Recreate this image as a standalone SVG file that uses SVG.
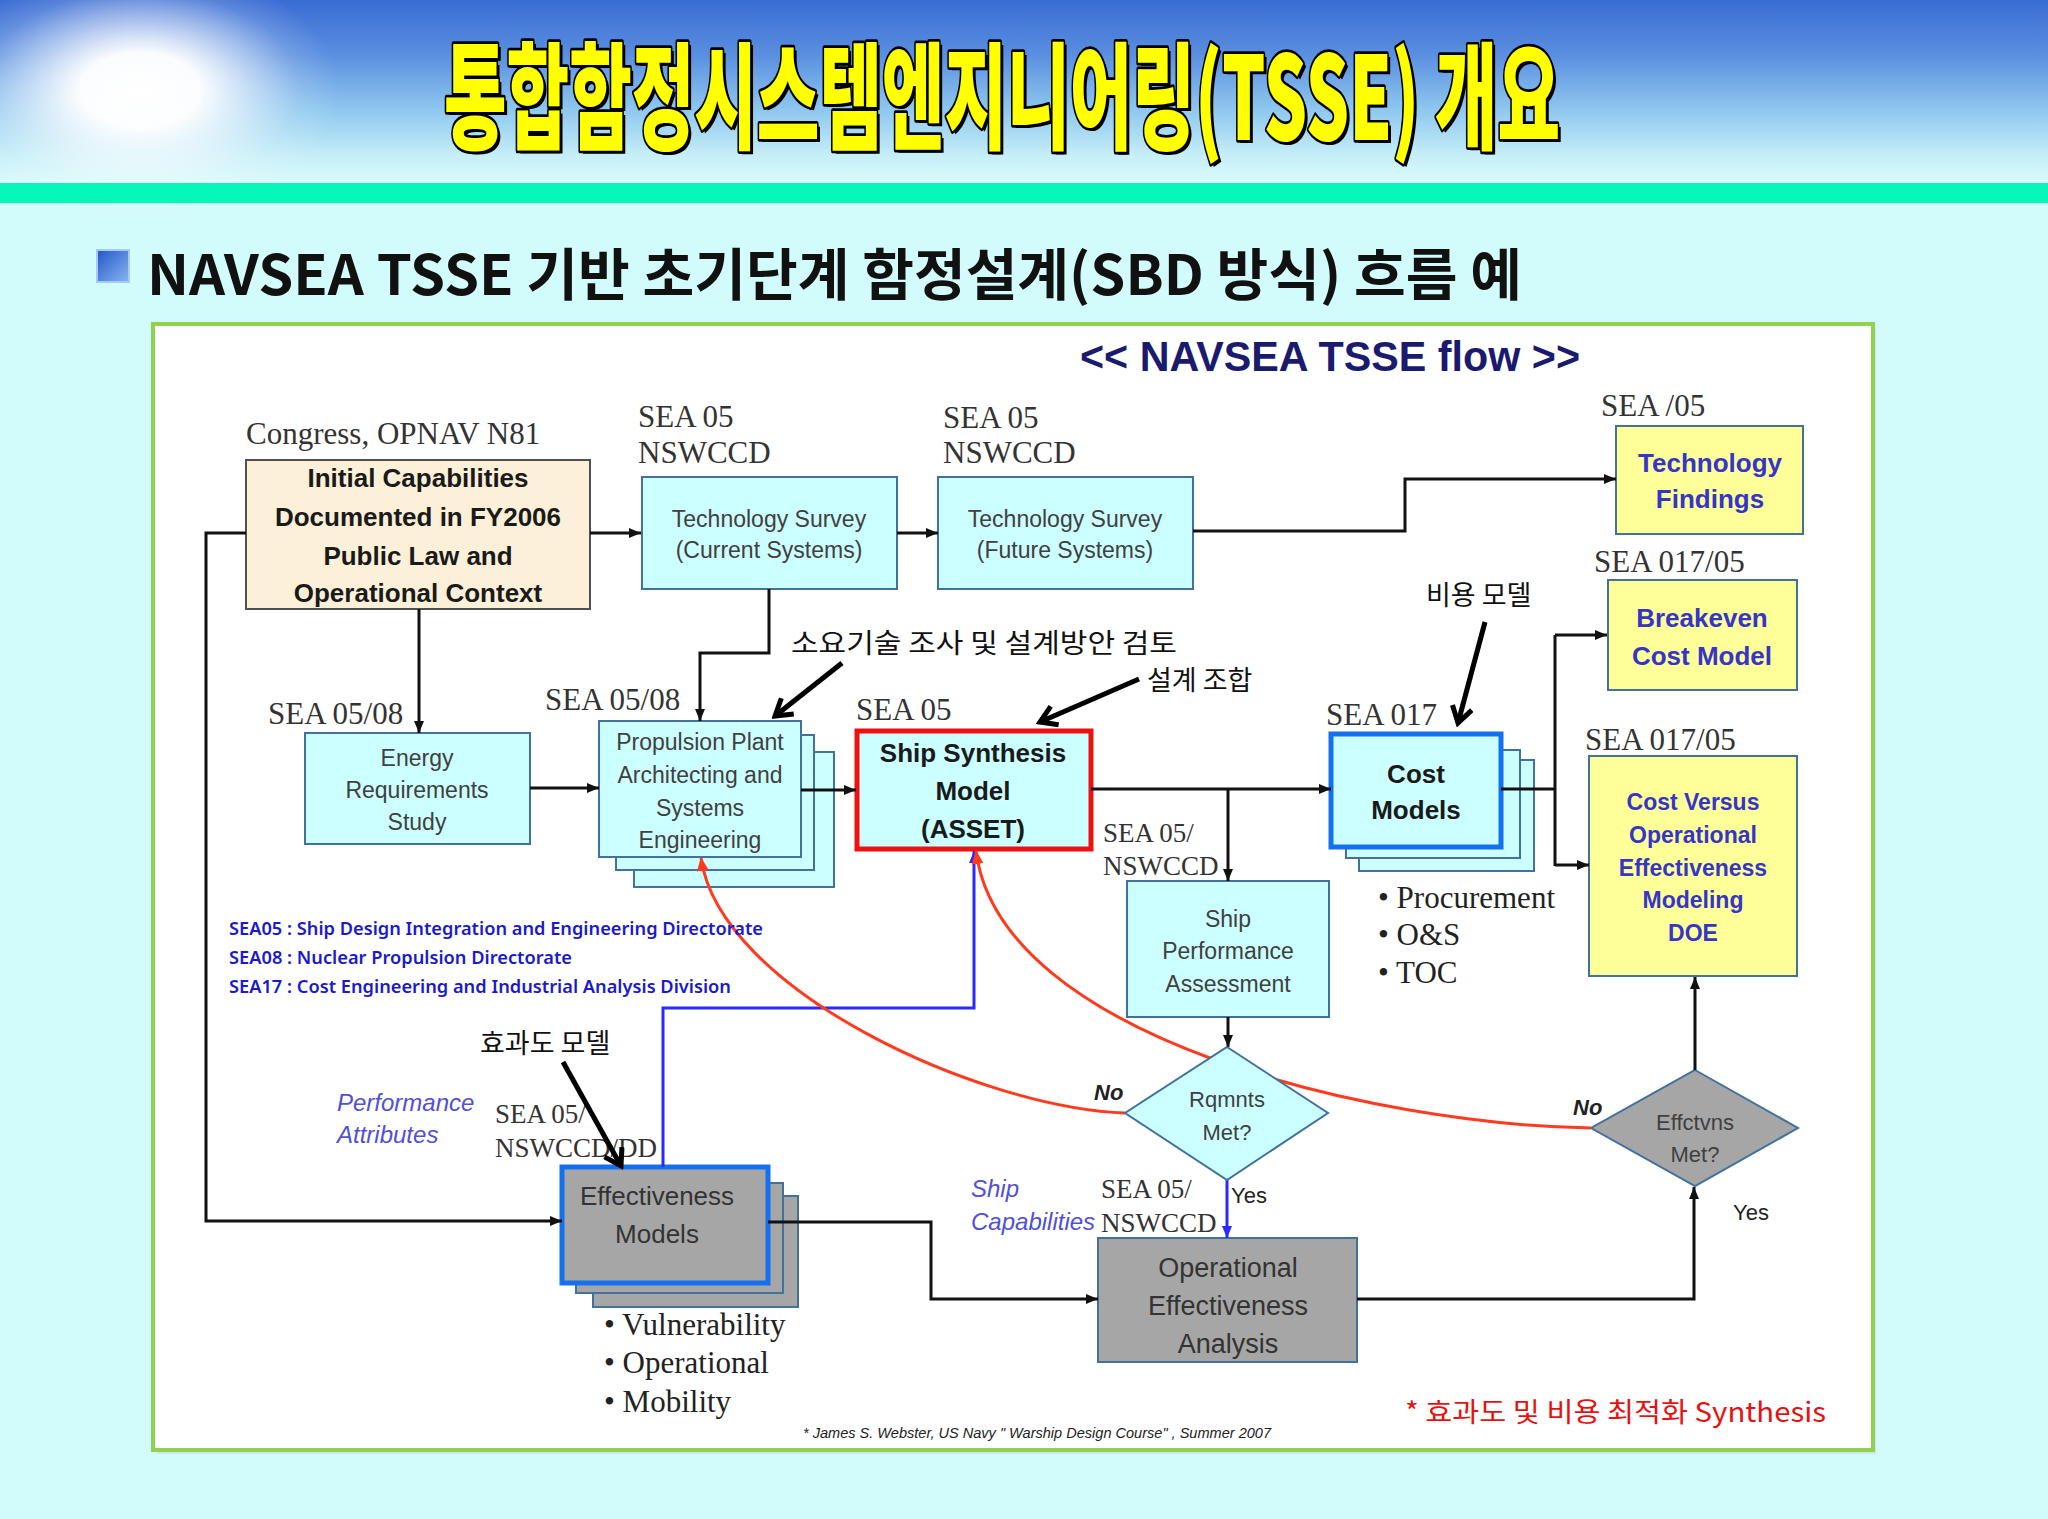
<svg xmlns="http://www.w3.org/2000/svg" width="2048" height="1519" viewBox="0 0 2048 1519">
<defs>
<linearGradient id="sky" x1="0" y1="0" x2="0" y2="1">
<stop offset="0" stop-color="#3a6cd3"/>
<stop offset="0.3" stop-color="#5a8fe0"/>
<stop offset="0.6" stop-color="#8fc8ef"/>
<stop offset="0.85" stop-color="#c6eff8"/>
<stop offset="1" stop-color="#dcfbfb"/>
</linearGradient>
<radialGradient id="sun" cx="0.5" cy="0.5" r="0.5">
<stop offset="0" stop-color="#ffffff" stop-opacity="1"/>
<stop offset="0.3" stop-color="#ffffff" stop-opacity="0.97"/>
<stop offset="0.55" stop-color="#ffffff" stop-opacity="0.55"/>
<stop offset="0.8" stop-color="#ffffff" stop-opacity="0.15"/>
<stop offset="1" stop-color="#ffffff" stop-opacity="0"/>
</radialGradient>
<linearGradient id="bullet" x1="0" y1="0" x2="1" y2="1">
<stop offset="0" stop-color="#2456c8"/>
<stop offset="1" stop-color="#86b6f2"/>
</linearGradient>
<marker id="ah" viewBox="0 0 12 10" refX="12" refY="5" markerWidth="12" markerHeight="10" markerUnits="userSpaceOnUse" orient="auto">
<path d="M0,0 L12,5 L0,10 z" fill="#111"/>
</marker>
<marker id="ahr" viewBox="0 0 14 12" refX="13" refY="6" markerWidth="14" markerHeight="12" markerUnits="userSpaceOnUse" orient="auto">
<path d="M0,0 L14,6 L0,12 z" fill="#ff3b1f"/>
</marker>
<marker id="ahb" viewBox="0 0 12 10" refX="12" refY="5" markerWidth="12" markerHeight="10" markerUnits="userSpaceOnUse" orient="auto">
<path d="M0,0 L12,5 L0,10 z" fill="#2a2aff"/>
</marker>
<marker id="chev" viewBox="0 0 24 24" refX="20" refY="12" markerWidth="24" markerHeight="24" markerUnits="userSpaceOnUse" orient="auto">
<path d="M4,2 L20,12 L4,22" fill="none" stroke="#000" stroke-width="5" stroke-linejoin="miter"/>
</marker>
<style>
.sea{font-family:"Liberation Serif","Times New Roman",serif;font-size:31px;fill:#333}
.sm{font-size:27px}
.bul{font-family:"Liberation Serif","Times New Roman",serif;font-size:31px;fill:#222}
.bc{fill:#ccffff;stroke:#41719c;stroke-width:2}
.by{fill:#ffff99;stroke:#41719c;stroke-width:2}
.bg{fill:#a6a6a6;stroke:#41719c;stroke-width:2}
.tr{font-family:"Liberation Sans",Arial,sans-serif;font-size:23px;fill:#404040;text-anchor:middle}
.tg{font-family:"Liberation Sans",Arial,sans-serif;font-size:26px;fill:#333;text-anchor:middle}
.tb{font-family:"Liberation Sans",Arial,sans-serif;font-size:26px;font-weight:bold;fill:#1a1a1a;text-anchor:middle}
.tbl{font-family:"Liberation Sans",Arial,sans-serif;font-size:26px;font-weight:bold;fill:#3535c8;text-anchor:middle}
.conn{fill:none;stroke:#111;stroke-width:3}
.kr{font-family:"Noto Sans CJK KR",sans-serif;font-size:27px;fill:#111}
.call{stroke:#000;stroke-width:5;fill:none}
.it{font-family:"Liberation Sans",Arial,sans-serif;font-size:24px;font-style:italic;fill:#5050d8}
.no{font-family:"Liberation Sans",Arial,sans-serif;font-size:22px;font-style:italic;font-weight:bold;fill:#222}
.yes{font-family:"Liberation Sans",Arial,sans-serif;font-size:22px;fill:#222}
.leg{font-family:"Noto Sans","Liberation Sans",sans-serif;font-size:17px;fill:#1a1acc;font-weight:600}
.ttl{font-family:"Noto Sans CJK KR",sans-serif;font-weight:900;font-size:64px}
</style>
</defs>

<!-- background -->
<rect x="0" y="0" width="2048" height="1519" fill="#d2fbfb"/>
<rect x="0" y="0" width="2048" height="184" fill="url(#sky)"/>
<ellipse cx="140" cy="90" rx="200" ry="125" fill="url(#sun)"/>
<rect x="0" y="183" width="2048" height="20" fill="#05f7b9"/>

<!-- title -->
<g id="title">
<text class="ttl" transform="translate(447,143) scale(1,1.8125)" x="0" y="0" textLength="1116" lengthAdjust="spacingAndGlyphs" fill="#000">통합함정시스템엔지니어링(TSSE) 개요</text>
<text class="ttl" transform="translate(444,140) scale(1,1.8125)" x="0" y="0" textLength="1116" lengthAdjust="spacingAndGlyphs" fill="#ffff00" stroke="#000" stroke-width="3" stroke-linejoin="round" paint-order="stroke">통합함정시스템엔지니어링(TSSE) 개요</text>
</g>

<g id="subtitle">
<rect x="97" y="250" width="32" height="32" fill="url(#bullet)" stroke="#a8cbf5" stroke-width="2"/>
<text x="147" y="295" font-family="Noto Sans CJK KR,sans-serif" font-weight="bold" font-size="56" textLength="1375" lengthAdjust="spacingAndGlyphs" fill="#111">NAVSEA TSSE 기반 초기단계 함정설계(SBD 방식) 흐름 예</text>
</g>

<!-- panel -->
<rect x="157" y="328" width="1719" height="1126" fill="#c8dede" opacity="0.6"/>
<rect x="153" y="324" width="1720" height="1126" fill="#ffffff" stroke="#92d050" stroke-width="4"/>

<text x="1080" y="371" font-family="Liberation Sans,Arial,sans-serif" font-weight="bold" font-size="42" textLength="500" lengthAdjust="spacingAndGlyphs" fill="#1a1a6e">&lt;&lt; NAVSEA TSSE flow &gt;&gt;</text>

<!-- nodes -->
<g id="n-initial">
<text class="sea" x="246" y="444">Congress, OPNAV N81</text>
<rect x="246" y="460" width="344" height="149" fill="#fdf0d8" stroke="#505050" stroke-width="2"/>
<text class="tb" x="418" y="487">Initial Capabilities</text>
<text class="tb" x="418" y="526">Documented in FY2006</text>
<text class="tb" x="418" y="565">Public Law and</text>
<text class="tb" x="418" y="602">Operational Context</text>
</g>

<g id="n-techcur">
<text class="sea" x="638" y="427">SEA 05</text>
<text class="sea" x="638" y="463">NSWCCD</text>
<rect class="bc" x="642" y="477" width="255" height="112"/>
<text class="tr" x="769" y="527">Technology Survey</text>
<text class="tr" x="769" y="558">(Current Systems)</text>
</g>

<g id="n-techfut">
<text class="sea" x="943" y="428">SEA 05</text>
<text class="sea" x="943" y="463">NSWCCD</text>
<rect class="bc" x="938" y="477" width="255" height="112"/>
<text class="tr" x="1065" y="527">Technology Survey</text>
<text class="tr" x="1065" y="558">(Future Systems)</text>
</g>

<g id="n-findings">
<text class="sea" x="1601" y="416">SEA /05</text>
<rect class="by" x="1616" y="426" width="187" height="108"/>
<text class="tbl" x="1710" y="472">Technology</text>
<text class="tbl" x="1710" y="508">Findings</text>
</g>

<g id="n-breakeven">
<text class="sea" x="1594" y="572">SEA 017/05</text>
<rect class="by" x="1608" y="580" width="189" height="110"/>
<text class="tbl" x="1702" y="627">Breakeven</text>
<text class="tbl" x="1702" y="665">Cost Model</text>
</g>

<g id="n-costversus">
<text class="sea" x="1585" y="750">SEA 017/05</text>
<rect class="by" x="1589" y="756" width="208" height="220"/>
<text class="tbl" x="1693" y="810" style="font-size:23px">Cost Versus</text>
<text class="tbl" x="1693" y="843" style="font-size:23px">Operational</text>
<text class="tbl" x="1693" y="876" style="font-size:23px">Effectiveness</text>
<text class="tbl" x="1693" y="908" style="font-size:23px">Modeling</text>
<text class="tbl" x="1693" y="941" style="font-size:23px">DOE</text>
</g>

<g id="n-energy">
<text class="sea" x="268" y="724">SEA 05/08</text>
<rect class="bc" x="305" y="733" width="225" height="111"/>
<text class="tr" x="417" y="766">Energy</text>
<text class="tr" x="417" y="798">Requirements</text>
<text class="tr" x="417" y="830">Study</text>
</g>

<g id="n-propulsion">
<text class="sea" x="545" y="710">SEA 05/08</text>
<rect class="bc" x="634" y="752" width="200" height="135"/>
<rect class="bc" x="616" y="735" width="198" height="135"/>
<rect class="bc" x="599" y="721" width="202" height="136"/>
<text class="tr" x="700" y="750">Propulsion Plant</text>
<text class="tr" x="700" y="783">Architecting and</text>
<text class="tr" x="700" y="816">Systems</text>
<text class="tr" x="700" y="848">Engineering</text>
</g>

<g id="n-synthesis">
<text class="sea" x="856" y="720">SEA 05</text>
<rect x="857" y="731" width="234" height="118" fill="#ccffff" stroke="#ee1111" stroke-width="5"/>
<text class="tb" x="973" y="762">Ship Synthesis</text>
<text class="tb" x="973" y="800">Model</text>
<text class="tb" x="973" y="838">(ASSET)</text>
</g>

<g id="n-costmodels">
<text class="sea" x="1326" y="725">SEA 017</text>
<rect class="bc" x="1359" y="760" width="175" height="111"/>
<rect class="bc" x="1346" y="750" width="174" height="108"/>
<rect x="1331" y="734" width="170" height="113" fill="#ccffff" stroke="#1570ef" stroke-width="5"/>
<text class="tb" x="1416" y="783">Cost</text>
<text class="tb" x="1416" y="819">Models</text>
<text class="bul" x="1378" y="908">• Procurement</text>
<text class="bul" x="1378" y="945">• O&amp;S</text>
<text class="bul" x="1378" y="983">• TOC</text>
</g>

<g id="n-shipperf">
<text class="sea sm" x="1103" y="842">SEA 05/</text>
<text class="sea sm" x="1103" y="875">NSWCCD</text>
<rect class="bc" x="1127" y="881" width="202" height="136"/>
<text class="tr" x="1228" y="927">Ship</text>
<text class="tr" x="1228" y="959">Performance</text>
<text class="tr" x="1228" y="992">Assessment</text>
</g>

<g id="n-effctvns">
<polygon class="bg" points="1695,1070 1798,1128 1695,1186 1591,1128"/>
<text class="tr" x="1695" y="1130" style="font-size:22px">Effctvns</text>
<text class="tr" x="1695" y="1162" style="font-size:22px">Met?</text>
<text class="no" x="1573" y="1115">No</text>
<text class="yes" x="1733" y="1220">Yes</text>
</g>

<g id="n-opeff">
<text class="it" x="971" y="1197">Ship</text>
<text class="it" x="971" y="1230">Capabilities</text>
<text class="sea sm" x="1101" y="1198">SEA 05/</text>
<text class="sea sm" x="1101" y="1232">NSWCCD</text>
<rect class="bg" x="1098" y="1238" width="259" height="124"/>
<text class="tg" x="1228" y="1277" style="font-size:27px">Operational</text>
<text class="tg" x="1228" y="1315" style="font-size:27px">Effectiveness</text>
<text class="tg" x="1228" y="1353" style="font-size:27px">Analysis</text>
</g>

<g id="n-effmodels">
<text class="it" x="337" y="1111">Performance</text>
<text class="it" x="337" y="1143">Attributes</text>
<text class="sea sm" x="495" y="1123">SEA 05/</text>
<text class="sea sm" x="495" y="1157">NSWCCD/DD</text>
<rect class="bg" x="593" y="1196" width="205" height="111"/>
<rect class="bg" x="576" y="1183" width="207" height="110"/>
<rect x="562" y="1167" width="206" height="116" fill="#a6a6a6" stroke="#1570ef" stroke-width="5"/>
<text class="tg" x="657" y="1205">Effectiveness</text>
<text class="tg" x="657" y="1243">Models</text>
<text class="bul" x="604" y="1335">• Vulnerability</text>
<text class="bul" x="604" y="1373">• Operational</text>
<text class="bul" x="604" y="1412">• Mobility</text>
</g>

<!-- connectors -->
<g id="connectors">
<polyline class="conn" points="590,533 641,533" marker-end="url(#ah)"/>
<polyline class="conn" points="897,533 938,533" marker-end="url(#ah)"/>
<polyline class="conn" points="1193,531 1405,531 1405,479 1616,479" marker-end="url(#ah)"/>
<polyline class="conn" points="419,609 419,733" marker-end="url(#ah)"/>
<polyline class="conn" points="246,533 206,533 206,1221 562,1221" marker-end="url(#ah)"/>
<polyline class="conn" points="769,589 769,653 700,653 700,721" marker-end="url(#ah)"/>
<polyline class="conn" points="530,788 599,788" marker-end="url(#ah)"/>
<polyline class="conn" points="801,790 856,790" marker-end="url(#ah)"/>
<polyline class="conn" points="1091,789 1331,789" marker-end="url(#ah)"/>
<polyline class="conn" points="1228,789 1228,881" marker-end="url(#ah)"/>
<polyline class="conn" points="1228,1017 1228,1047" marker-end="url(#ah)"/>
<polyline class="conn" points="1501,789 1555,789"/>
<polyline class="conn" points="1555,635 1555,866"/>
<polyline class="conn" points="1555,635 1607,635" marker-end="url(#ah)"/>
<polyline class="conn" points="1555,865 1589,865" marker-end="url(#ah)"/>
<polyline class="conn" points="768,1222 931,1222 931,1299 1098,1299" marker-end="url(#ah)"/>
<polyline class="conn" points="1357,1299 1694,1299 1694,1187" marker-end="url(#ah)"/>
<polyline class="conn" points="1695,1070 1695,977" marker-end="url(#ah)" stroke-width="2"/>
<polyline points="1227,1180 1227,1238" fill="none" stroke="#2a2aff" stroke-width="3" marker-end="url(#ahb)"/>
<polyline points="663,1167 663,1008 974,1008 974,851" fill="none" stroke="#2a2aff" stroke-width="3" marker-end="url(#ahb)"/>
<path d="M1125,1113 C980,1108 720,990 701,858" fill="none" stroke="#ff3b1f" stroke-width="3" marker-end="url(#ahr)"/>
<path d="M1591,1128 C1380,1125 1000,1040 976,851" fill="none" stroke="#ff3b1f" stroke-width="3" marker-end="url(#ahr)"/>
</g>

<g id="n-rqmnts">
<polygon class="bc" points="1227,1047 1328,1113 1227,1180 1125,1113"/>
<text class="tr" x="1227" y="1107" style="font-size:22px">Rqmnts</text>
<text class="tr" x="1227" y="1140" style="font-size:22px">Met?</text>
<text class="no" x="1094" y="1100">No</text>
<text class="yes" x="1231" y="1203">Yes</text>
</g>

<!-- legend -->
<g id="legend">
<text class="leg" x="229" y="935" textLength="534" lengthAdjust="spacingAndGlyphs">SEA05 : Ship Design Integration and Engineering Directorate</text>
<text class="leg" x="229" y="964" textLength="343" lengthAdjust="spacingAndGlyphs">SEA08 : Nuclear Propulsion Directorate</text>
<text class="leg" x="229" y="993" textLength="502" lengthAdjust="spacingAndGlyphs">SEA17 : Cost Engineering and Industrial Analysis Division</text>
</g>

<!-- Korean callouts -->
<g id="callouts">
<text class="kr" x="791" y="653" textLength="386" lengthAdjust="spacingAndGlyphs">소요기술 조사 및 설계방안 검토</text>
<line class="call" x1="842" y1="663" x2="775" y2="716" marker-end="url(#chev)"/>
<text class="kr" x="1147" y="690">설계 조합</text>
<line class="call" x1="1139" y1="679" x2="1040" y2="722" marker-end="url(#chev)"/>
<text class="kr" x="1426" y="605">비용 모델</text>
<line class="call" x1="1485" y1="622" x2="1458" y2="723" marker-end="url(#chev)"/>
<text class="kr" x="480" y="1053">효과도 모델</text>
<line class="call" x1="563" y1="1062" x2="621" y2="1166" marker-end="url(#chev)"/>
</g>

<text x="1405" y="1422" font-family="Noto Sans CJK KR,sans-serif" font-size="27" fill="#e81010" textLength="421" lengthAdjust="spacingAndGlyphs">* 효과도 및 비용 최적화 Synthesis</text>
<text x="803" y="1438" font-family="Liberation Sans,Arial,sans-serif" font-size="14" font-style="italic" fill="#222" textLength="468" lengthAdjust="spacingAndGlyphs">* James S. Webster, US Navy " Warship Design Course" , Summer 2007</text>
</svg>
